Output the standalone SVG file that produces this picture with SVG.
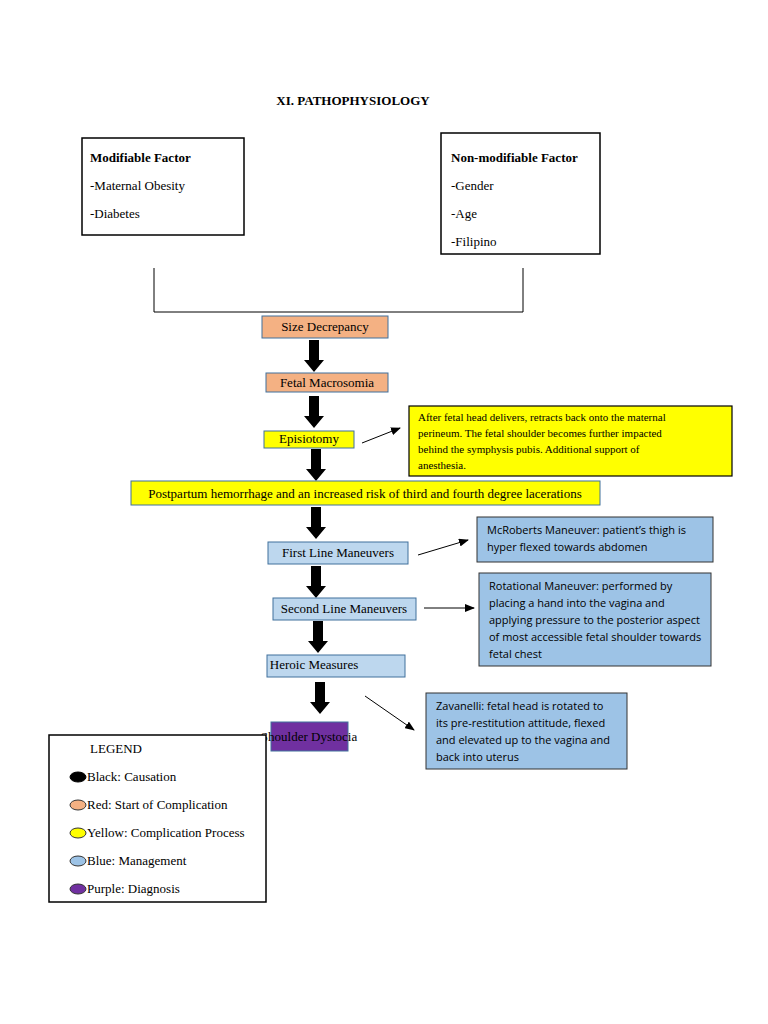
<svg xmlns="http://www.w3.org/2000/svg" width="768" height="1024" viewBox="0 0 768 1024">
<defs>
<marker id="ah" markerWidth="10" markerHeight="8" refX="9" refY="4" orient="auto" markerUnits="userSpaceOnUse"><path d="M0,0 L10,4 L0,8 Z" fill="#000"/></marker>
<path id="fat" d="M-5,0 H5 V20 H10 L0,32 L-10,20 H-5 Z" fill="#000"/>
</defs>
<style>
.s{font-family:"Liberation Serif",serif;font-size:13px;fill:#000}
.c{font-family:"Open Sans","Noto Sans",sans-serif;font-size:11px;fill:#000}
.b{font-weight:bold}
.box{stroke:#000;stroke-width:1}
.org{fill:#f4b183;stroke:#41719c}
.yel{fill:#ffff00;stroke:#41719c}
.blu{fill:#bdd7ee;stroke:#41719c}
.dbl{fill:#9dc3e6;stroke:#333}
.pur{fill:#7030a0;stroke:#41719c}
</style>
<rect width="768" height="1024" fill="#fff"/>
<text class="s b" x="353" y="105" text-anchor="middle">XI. PATHOPHYSIOLOGY</text>
<g id="modifiable">
<rect x="82" y="138" width="162" height="97" fill="#fff" stroke="#000" stroke-width="1.5"/>
<text class="s b" x="90" y="162">Modifiable Factor</text>
<text class="s" x="90" y="190">-Maternal Obesity</text>
<text class="s" x="90" y="218">-Diabetes</text>
</g>
<g id="nonmodifiable">
<rect x="441" y="133" width="159" height="121" fill="#fff" stroke="#000" stroke-width="1.5"/>
<text class="s b" x="451" y="162">Non-modifiable Factor</text>
<text class="s" x="451" y="190">-Gender</text>
<text class="s" x="451" y="218">-Age</text>
<text class="s" x="451" y="246">-Filipino</text>
</g>
<g id="connectors">
<path d="M154,268 V312 H523 V268" fill="none" stroke="#000"/>
<use href="#fat" x="314" y="340"/>
<use href="#fat" x="314" y="396"/>
<use href="#fat" x="316" y="449"/>
<use href="#fat" x="316" y="507"/>
<use href="#fat" x="316" y="566"/>
<use href="#fat" x="318" y="621"/>
<use href="#fat" x="320" y="682"/>
<g stroke="#000" stroke-width="1" marker-end="url(#ah)">
<line x1="362" y1="443" x2="400" y2="428"/>
<line x1="418" y1="555" x2="468" y2="540"/>
<line x1="424" y1="608" x2="474" y2="608"/>
<line x1="365" y1="696" x2="414" y2="730"/>
</g>
</g>
<g id="size"><rect class="org" x="262" y="316" width="126" height="22"/><text class="s" x="325" y="331" text-anchor="middle">Size Decrepancy</text></g>
<g id="macrosomia"><rect class="org" x="266" y="373" width="122" height="19"/><text class="s" x="327" y="387" text-anchor="middle">Fetal Macrosomia</text></g>
<g id="episiotomy"><rect class="yel" x="264" y="431" width="90" height="17"/><text class="s" x="309" y="443" text-anchor="middle">Episiotomy</text></g>
<g id="episiotomy-note"><rect x="409" y="406" width="323" height="70" fill="#ffff00" stroke="#000" stroke-width="1.2"/>
<text class="s" font-size="11" x="418" y="421" style="font-size:11px">After fetal head delivers, retracts back onto the maternal</text>
<text class="s" x="418" y="437" style="font-size:11px">perineum. The fetal shoulder becomes further impacted</text>
<text class="s" x="418" y="453" style="font-size:11px">behind the symphysis pubis. Additional support of</text>
<text class="s" x="418" y="469" style="font-size:11px">anesthesia.</text></g>
<g id="postpartum"><rect class="yel" x="131" y="481" width="469" height="24"/><text class="s" x="365" y="498" text-anchor="middle">Postpartum hemorrhage and an increased risk of third and fourth degree lacerations</text></g>
<g id="first"><rect class="blu" x="268" y="542" width="140" height="22"/><text class="s" x="338" y="557" text-anchor="middle">First Line Maneuvers</text></g>
<g id="mcroberts"><rect class="dbl" x="477" y="517" width="236" height="45"/><text class="c" x="487" y="534">McRoberts Maneuver: patient’s thigh is</text><text class="c" x="487" y="551">hyper flexed towards abdomen</text></g>
<g id="second"><rect class="blu" x="273" y="598" width="143" height="22"/><text class="s" x="344" y="613" text-anchor="middle">Second Line Maneuvers</text></g>
<g id="rotational"><rect class="dbl" x="479" y="573" width="232" height="93"/><text class="c" x="489" y="590">Rotational Maneuver: performed by</text><text class="c" x="489" y="607">placing a hand into the vagina and</text><text class="c" x="489" y="624">applying pressure to the posterior aspect</text><text class="c" x="489" y="641">of most accessible fetal shoulder towards</text><text class="c" x="489" y="658">fetal chest</text></g>
<g id="heroic"><rect class="blu" x="267" y="655" width="138" height="22"/><text class="s" x="314" y="669" text-anchor="middle">Heroic Measures</text></g>
<g id="dystocia"><rect class="pur" x="271" y="722" width="77" height="29"/><text class="s" x="309" y="741" text-anchor="middle">Shoulder Dystocia</text></g>
<g id="zavanelli"><rect class="dbl" x="426" y="693" width="201" height="76"/><text class="c" x="436" y="710">Zavanelli: fetal head is rotated to</text><text class="c" x="436" y="727">its pre-restitution attitude, flexed</text><text class="c" x="436" y="744">and elevated up to the vagina and</text><text class="c" x="436" y="761">back into uterus</text></g>
<g id="legend">
<rect x="49" y="735" width="217" height="167" fill="#fff" stroke="#000" stroke-width="1.5"/>
<text class="s" x="90" y="753">LEGEND</text>
<ellipse cx="78" cy="777" rx="8" ry="5" fill="#000" stroke="#000"/><text class="s" x="87" y="781">Black: Causation</text>
<ellipse cx="78" cy="805" rx="8" ry="5" fill="#f4b183" stroke="#333"/><text class="s" x="87" y="809">Red: Start of Complication</text>
<ellipse cx="78" cy="833" rx="8" ry="5" fill="#ffff00" stroke="#333"/><text class="s" x="87" y="837">Yellow: Complication Process</text>
<ellipse cx="78" cy="861" rx="8" ry="5" fill="#9dc3e6" stroke="#333"/><text class="s" x="87" y="865">Blue: Management</text>
<ellipse cx="78" cy="889" rx="8" ry="5" fill="#7030a0" stroke="#333"/><text class="s" x="87" y="893">Purple: Diagnosis</text>
</g>
</svg>
